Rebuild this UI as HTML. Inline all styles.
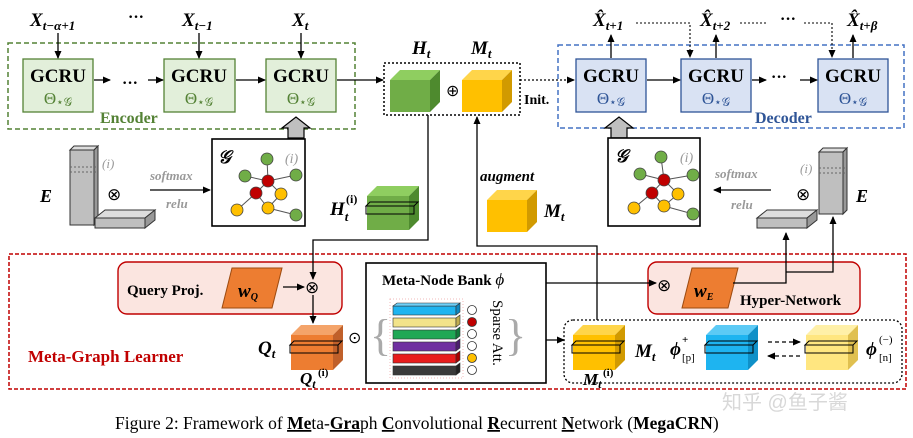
<!DOCTYPE html>
<html><head><meta charset="utf-8"><style>
html,body{margin:0;padding:0;background:#fff;}
svg{display:block;}
text{font-family:"Liberation Serif",serif;}
</style></head><body>
<svg width="913" height="438" viewBox="0 0 913 438" xmlns="http://www.w3.org/2000/svg">
<defs>
<marker id="a" markerWidth="8" markerHeight="8" refX="7" refY="4" orient="auto" markerUnits="userSpaceOnUse"><path d="M0,0.5 L8,4 L0,7.5z" fill="#000"/></marker>
</defs>
<!-- Encoder -->
<rect x="8" y="43" width="347" height="86" fill="none" stroke="#548235" stroke-width="1.5" stroke-dasharray="5,3"/>
<g fill="#e2efda" stroke="#548235" stroke-width="1.3">
<rect x="23" y="59" width="70" height="53"/><rect x="164" y="59" width="71" height="53"/><rect x="266" y="59" width="70" height="53"/>
</g>
<g font-size="19" text-anchor="middle" font-weight="bold">
<text x="58" y="82">GCRU</text><text x="199" y="82">GCRU</text><text x="301" y="82">GCRU</text>
</g>
<g font-size="17" fill="#548235" text-anchor="middle">
<text x="58" y="104">Θ<tspan font-size="12" dy="2">⋆𝒢</tspan></text><text x="199" y="104">Θ<tspan font-size="12" dy="2">⋆𝒢</tspan></text><text x="301" y="104">Θ<tspan font-size="12" dy="2">⋆𝒢</tspan></text>
</g>
<text x="100" y="123" font-size="16" fill="#548235" font-weight="bold">Encoder</text>
<g font-size="19" font-weight="bold" font-style="italic">
<text x="30" y="26">X<tspan font-size="13" dy="4">t−α+1</tspan></text>
<text x="182" y="26">X<tspan font-size="13" dy="4">t−1</tspan></text>
<text x="292" y="26">X<tspan font-size="13" dy="4">t</tspan></text>
</g>
<text x="128" y="22" font-size="16" font-weight="bold">···</text>
<text x="122" y="88" font-size="16" font-weight="bold">···</text>
<g stroke="#000" stroke-width="1.3" marker-end="url(#a)">
<line x1="58" y1="33" x2="58" y2="58"/><line x1="199" y1="33" x2="199" y2="58"/><line x1="301" y1="33" x2="301" y2="58"/>
<line x1="94" y1="80" x2="110" y2="80"/><line x1="148" y1="80" x2="163" y2="80"/><line x1="236" y1="80" x2="265" y2="80"/><line x1="337" y1="80" x2="383" y2="80"/>
</g>
<polygon points="288,138 288,128 282,128 296,117 310,128 304,128 304,138" fill="#bfbfbf" stroke="#000" stroke-width="1.2"/>
<!-- Ht Mt box -->
<rect x="384" y="63" width="136" height="52" fill="none" stroke="#000" stroke-width="1.5" stroke-dasharray="2,2"/>
<polygon points="390,80 400,70 440,70 430,80" fill="#8fce60"/><polygon points="430,80 440,70 440,102 430,112" fill="#4e8a2e"/><rect x="390" y="80" width="40" height="32" fill="#70ad47"/>
<polygon points="462,80 472,70 512,70 502,80" fill="#ffd54a"/><polygon points="502,80 512,70 512,102 502,112" fill="#d19a00"/><rect x="462" y="80" width="40" height="32" fill="#ffc000"/>
<text x="446" y="96" font-size="16">⊕</text>
<g font-size="19" font-weight="bold" font-style="italic">
<text x="412" y="54">H<tspan font-size="13" dy="4">t</tspan></text>
<text x="471" y="54">M<tspan font-size="13" dy="4">t</tspan></text>
</g>
<text x="524" y="104" font-size="14" font-weight="bold">Init.</text>
<line x1="520" y1="80" x2="574" y2="80" stroke="#000" stroke-width="1.2" stroke-dasharray="2,2" marker-end="url(#a)"/>
<!-- Decoder -->
<rect x="558" y="45" width="346" height="83" fill="none" stroke="#4472c4" stroke-width="1.5" stroke-dasharray="5,3"/>
<g fill="#d9e2f3" stroke="#2f5597" stroke-width="1.3">
<rect x="576" y="59" width="70" height="53"/><rect x="681" y="59" width="70" height="53"/><rect x="818" y="59" width="70" height="53"/>
</g>
<g font-size="19" text-anchor="middle" font-weight="bold">
<text x="611" y="82">GCRU</text><text x="716" y="82">GCRU</text><text x="853" y="82">GCRU</text>
</g>
<g font-size="17" fill="#2f5597" text-anchor="middle">
<text x="611" y="104">Θ<tspan font-size="12" dy="2">⋆𝒢</tspan></text><text x="716" y="104">Θ<tspan font-size="12" dy="2">⋆𝒢</tspan></text><text x="853" y="104">Θ<tspan font-size="12" dy="2">⋆𝒢</tspan></text>
</g>
<text x="755" y="123" font-size="16" fill="#2f5597" font-weight="bold">Decoder</text>
<g font-size="19" font-weight="bold" font-style="italic">
<text x="593" y="26">X̂<tspan font-size="13" dy="4">t+1</tspan></text>
<text x="700" y="26">X̂<tspan font-size="13" dy="4">t+2</tspan></text>
<text x="847" y="26">X̂<tspan font-size="13" dy="4">t+β</tspan></text>
</g>
<text x="780" y="24" font-size="16" font-weight="bold">···</text>
<text x="771" y="82" font-size="16" font-weight="bold">···</text>
<g stroke="#000" stroke-width="1.3" marker-end="url(#a)">
<line x1="611" y1="58" x2="611" y2="35"/><line x1="716" y1="58" x2="716" y2="35"/><line x1="853" y1="58" x2="853" y2="35"/>
<line x1="647" y1="80" x2="680" y2="80"/><line x1="752" y1="80" x2="766" y2="80"/><line x1="800" y1="80" x2="817" y2="80"/>
</g>
<g stroke="#000" stroke-width="1.1" stroke-dasharray="2,2" fill="none">
<polyline points="636,23 690,23 690,57" marker-end="url(#a)"/>
<polyline points="740,23 768,23"/>
<polyline points="804,23 832,23 832,57" marker-end="url(#a)"/>
</g>
<polygon points="611,138 611,128 605,128 619,117 633,128 627,128 627,138" fill="#bfbfbf" stroke="#000" stroke-width="1.2"/>
<!-- left graph -->
<rect x="212" y="139" width="93" height="87" fill="#fff" stroke="#000" stroke-width="1.6"/>
<text x="218" y="163" font-size="18" font-weight="bold" font-style="italic">𝒢</text>
<text x="285" y="163" font-size="14" fill="#999" font-style="italic">(i)</text>
<g stroke="#555" stroke-width="1">
<line x1="267" y1="159" x2="268" y2="181"/><line x1="245" y1="176" x2="268" y2="181"/><line x1="268" y1="181" x2="296" y2="175"/><line x1="268" y1="181" x2="256" y2="193"/><line x1="268" y1="181" x2="281" y2="194"/><line x1="256" y1="193" x2="237" y2="210"/><line x1="256" y1="193" x2="268" y2="208"/><line x1="281" y1="194" x2="268" y2="208"/><line x1="268" y1="208" x2="296" y2="215"/>
</g>
<g stroke="#444" stroke-width="0.8">
<circle cx="267" cy="159" r="6" fill="#70ad47"/><circle cx="245" cy="176" r="6" fill="#70ad47"/><circle cx="296" cy="175" r="6" fill="#70ad47"/><circle cx="296" cy="215" r="6" fill="#70ad47"/>
<circle cx="268" cy="181" r="6" fill="#c00000"/><circle cx="256" cy="193" r="6" fill="#c00000"/>
<circle cx="281" cy="194" r="6" fill="#ffc000"/><circle cx="268" cy="208" r="6" fill="#ffc000"/><circle cx="237" cy="210" r="6" fill="#ffc000"/>
</g>
<!-- left E -->
<text x="40" y="202" font-size="18" font-weight="bold" font-style="italic">E</text>
<polygon points="70,150 74,146 98,146 94,150" fill="#ddd" stroke="#333"/><polygon points="94,150 98,146 98,221 94,225" fill="#999" stroke="#333"/><rect x="70" y="150" width="24" height="75" fill="#bfbfbf" stroke="#333"/>
<line x1="70" y1="167" x2="98" y2="167" stroke="#666" stroke-dasharray="2,2"/><line x1="70" y1="172" x2="98" y2="172" stroke="#666" stroke-dasharray="2,2"/>
<text x="102" y="168" font-size="13" fill="#999" font-style="italic">(i)</text>
<text x="107" y="200" font-size="17">⊗</text>
<polygon points="95,218 105,210 155,210 145,218" fill="#ddd" stroke="#333"/><polygon points="145,218 155,210 155,220 145,228" fill="#999" stroke="#333"/><rect x="95" y="218" width="50" height="10" fill="#bfbfbf" stroke="#333"/>
<text x="150" y="180" font-size="13" fill="#999" font-style="italic" font-weight="bold">softmax</text>
<text x="166" y="208" font-size="13" fill="#999" font-style="italic" font-weight="bold">relu</text>
<line x1="150" y1="190" x2="210" y2="190" stroke="#000" stroke-width="1.3" marker-end="url(#a)"/>
<!-- H_t^(i) -->
<text x="330" y="215" font-size="19" font-weight="bold" font-style="italic">H<tspan font-size="13" dy="6">t</tspan></text>
<text x="346" y="203" font-size="12" font-weight="bold">(i)</text>
<polygon points="367,196 377,186 419,186 409,196" fill="#8fce60"/><polygon points="409,196 419,186 419,220 409,230" fill="#4e8a2e"/><rect x="367" y="196" width="42" height="34" fill="#70ad47"/>
<polygon points="366,206 370,202 418,202 414,206" fill="none" stroke="#000"/><rect x="366" y="206" width="48" height="8" fill="none" stroke="#000"/>
<!-- augment -->
<text x="480" y="181" font-size="15" font-weight="bold" font-style="italic">augment</text>
<polygon points="487,200 497,190 537,190 527,200" fill="#ffd54a"/><polygon points="527,200 537,190 537,222 527,232" fill="#d19a00"/><rect x="487" y="200" width="40" height="32" fill="#ffc000"/>
<text x="544" y="217" font-size="19" font-weight="bold" font-style="italic">M<tspan font-size="13" dy="4">t</tspan></text>
<!-- right graph -->
<rect x="608" y="138" width="92" height="88" fill="#fff" stroke="#000" stroke-width="1.6"/>
<text x="615" y="162" font-size="18" font-weight="bold" font-style="italic">𝒢</text>
<text x="680" y="162" font-size="14" fill="#999" font-style="italic">(i)</text>
<g stroke="#555" stroke-width="1">
<line x1="661" y1="157" x2="664" y2="180"/><line x1="640" y1="174" x2="664" y2="180"/><line x1="664" y1="180" x2="693" y2="175"/><line x1="664" y1="180" x2="652" y2="193"/><line x1="664" y1="180" x2="678" y2="194"/><line x1="652" y1="193" x2="634" y2="208"/><line x1="652" y1="193" x2="664" y2="206"/><line x1="678" y1="194" x2="664" y2="206"/><line x1="664" y1="206" x2="693" y2="214"/>
</g>
<g stroke="#444" stroke-width="0.8">
<circle cx="661" cy="157" r="6" fill="#70ad47"/><circle cx="640" cy="174" r="6" fill="#70ad47"/><circle cx="693" cy="175" r="6" fill="#70ad47"/><circle cx="693" cy="214" r="6" fill="#70ad47"/>
<circle cx="664" cy="180" r="6" fill="#c00000"/><circle cx="652" cy="193" r="6" fill="#c00000"/>
<circle cx="678" cy="194" r="6" fill="#ffc000"/><circle cx="664" cy="206" r="6" fill="#ffc000"/><circle cx="634" cy="208" r="6" fill="#ffc000"/>
</g>
<text x="715" y="178" font-size="13" fill="#999" font-style="italic" font-weight="bold">softmax</text>
<text x="731" y="209" font-size="13" fill="#999" font-style="italic" font-weight="bold">relu</text>
<line x1="771" y1="190" x2="714" y2="190" stroke="#000" stroke-width="1.3" marker-end="url(#a)"/>
<polygon points="819,152 823,148 847,148 843,152" fill="#ddd" stroke="#333"/><polygon points="843,152 847,148 847,210 843,214" fill="#999" stroke="#333"/><rect x="819" y="152" width="24" height="62" fill="#bfbfbf" stroke="#333"/>
<line x1="819" y1="168" x2="847" y2="168" stroke="#666" stroke-dasharray="2,2"/><line x1="819" y1="173" x2="847" y2="173" stroke="#666" stroke-dasharray="2,2"/>
<text x="800" y="173" font-size="13" fill="#999" font-style="italic">(i)</text>
<text x="796" y="200" font-size="17">⊗</text>
<text x="856" y="202" font-size="18" font-weight="bold" font-style="italic">E</text>
<polygon points="757,218 767,210 817,210 807,218" fill="#ddd" stroke="#333"/><polygon points="807,218 817,210 817,220 807,228" fill="#999" stroke="#333"/><rect x="757" y="218" width="50" height="10" fill="#bfbfbf" stroke="#333"/>
<!-- Meta-Graph Learner -->
<rect x="9" y="254" width="897" height="135" fill="none" stroke="#c00000" stroke-width="1.5" stroke-dasharray="4,2"/>
<text x="28" y="362" font-size="17" fill="#c00000" font-weight="bold">Meta-Graph Learner</text>
<rect x="118" y="262" width="224" height="52" rx="9" fill="#fbe5e0" stroke="#c00000" stroke-width="1.4"/>
<text x="127" y="295" font-size="15" font-weight="bold">Query Proj.</text>
<polygon points="232,268 282,268 272,308 222,308" fill="#ed7d31" stroke="#9c4a10"/>
<text x="238" y="297" font-size="19" font-style="italic" font-weight="bold">w<tspan font-size="10" dy="3">Q</tspan></text>
<text x="305" y="293" font-size="17">⊗</text>
<line x1="283" y1="287" x2="304" y2="287" stroke="#000" stroke-width="1.3" marker-end="url(#a)"/>
<rect x="648" y="262" width="212" height="52" rx="9" fill="#fbe5e0" stroke="#c00000" stroke-width="1.4"/>
<text x="657" y="291" font-size="17">⊗</text>
<polygon points="692,268 738,268 728,308 682,308" fill="#ed7d31" stroke="#9c4a10"/>
<text x="694" y="297" font-size="19" font-style="italic" font-weight="bold">w<tspan font-size="10" dy="3">E</tspan></text>
<text x="740" y="305" font-size="15" font-weight="bold">Hyper-Network</text>
<!-- connectors -->
<g stroke="#000" stroke-width="1.3" fill="none">
<polyline points="428,115 428,240 313,240 313,279" marker-end="url(#a)"/>
<line x1="313" y1="295" x2="313" y2="323" marker-end="url(#a)"/>
<polyline points="597,320 597,246 477,246 477,117" marker-end="url(#a)"/>
<line x1="534" y1="283" x2="656" y2="283" marker-end="url(#a)"/>
<polyline points="733,283 786,283 786,233" marker-end="url(#a)"/>
<polyline points="786,272 833,272 833,217" marker-end="url(#a)"/>
<line x1="521" y1="340" x2="564" y2="340" marker-end="url(#a)"/>
</g>
<!-- Q_t -->
<text x="258" y="354" font-size="19" font-weight="bold" font-style="italic">Q<tspan font-size="13" dy="4">t</tspan></text>
<polygon points="291,335 301,325 343,325 333,335" fill="#f4a46a"/><polygon points="333,335 343,325 343,360 333,370" fill="#c0602a"/><rect x="291" y="335" width="42" height="35" fill="#ed7d31"/>
<polygon points="290,345 294,341 342,341 338,345" fill="none" stroke="#000"/><rect x="290" y="345" width="48" height="8" fill="none" stroke="#000"/>
<text x="300" y="384" font-size="17" font-weight="bold" font-style="italic">Q<tspan font-size="12" dy="4">t</tspan></text>
<text x="318" y="376" font-size="11" font-weight="bold">(i)</text>
<text x="348" y="343" font-size="16">⊙</text>
<!-- Meta node bank -->
<rect x="366" y="263" width="180" height="120" fill="#fff" stroke="#000" stroke-width="1.6"/>
<text x="382" y="285" font-size="15" font-weight="bold">Meta-Node Bank <tspan font-style="italic" font-weight="normal" font-size="17">ϕ</tspan></text>
<text x="370" y="350" font-size="44" fill="#aaa">{</text>
<text x="505" y="350" font-size="44" fill="#aaa">}</text>
<rect x="390" y="299" width="73" height="79" fill="none" stroke="#f2b8b8" stroke-dasharray="1,2"/>
<g stroke="#333" stroke-width="0.6">
<rect x="393" y="306" width="63" height="9" fill="#1eb4f0"/><polygon points="456,306 460,303 460,312 456,315" fill="#0f88c0"/><polygon points="393,306 397,303 460,303 456,306" fill="#6cd0f8"/>
<rect x="393" y="318" width="63" height="9" fill="#f2e38a"/><polygon points="456,318 460,315 460,324 456,327" fill="#c0ae50"/>
<rect x="393" y="330" width="63" height="9" fill="#1fa855"/><polygon points="456,330 460,327 460,336 456,339" fill="#127a3a"/>
<rect x="393" y="342" width="63" height="9" fill="#7030a0"/><polygon points="456,342 460,339 460,348 456,351" fill="#4c1e70"/>
<rect x="393" y="354" width="63" height="9" fill="#e81c1c"/><polygon points="456,354 460,351 460,360 456,363" fill="#a00"/>
<rect x="393" y="366" width="63" height="9" fill="#3a3a3a"/><polygon points="456,366 460,363 460,372 456,375" fill="#222"/>
</g>
<g stroke="#333" stroke-width="0.8">
<circle cx="472" cy="310" r="4.5" fill="#fff"/><circle cx="472" cy="322" r="4.5" fill="#c00000"/><circle cx="472" cy="334" r="4.5" fill="#fff"/><circle cx="472" cy="346" r="4.5" fill="#fff"/><circle cx="472" cy="358" r="4.5" fill="#ffc000"/><circle cx="472" cy="370" r="4.5" fill="#fff"/>
</g>
<text x="0" y="0" font-size="15" transform="translate(493,300) rotate(90)">Sparse Att.</text>
<!-- bottom right -->
<rect x="564" y="320" width="338" height="63" rx="9" fill="none" stroke="#000" stroke-width="1.3" stroke-dasharray="2,2"/>
<polygon points="573,335 583,325 625,325 615,335" fill="#ffd54a"/><polygon points="615,335 625,325 625,360 615,370" fill="#d19a00"/><rect x="573" y="335" width="42" height="35" fill="#ffc000"/>
<polygon points="572,345 576,341 624,341 620,345" fill="none" stroke="#000"/><rect x="572" y="345" width="48" height="8" fill="none" stroke="#000"/>
<text x="583" y="385" font-size="17" font-weight="bold" font-style="italic">M<tspan font-size="12" dy="3">t</tspan></text>
<text x="603" y="376" font-size="11" font-weight="bold">(i)</text>
<text x="635" y="357" font-size="19" font-weight="bold" font-style="italic">M<tspan font-size="13" dy="4">t</tspan></text>
<text x="670" y="355" font-size="19" font-weight="bold" font-style="italic">ϕ</text>
<text x="682" y="343" font-size="11" font-weight="bold">+</text>
<text x="682" y="361" font-size="11">[p]</text>
<polygon points="706,335 716,325 758,325 748,335" fill="#5ccaf5"/><polygon points="748,335 758,325 758,360 748,370" fill="#0f90c8"/><rect x="706" y="335" width="42" height="35" fill="#1eb4f0"/>
<polygon points="705,345 709,341 757,341 753,345" fill="none" stroke="#000"/><rect x="705" y="345" width="48" height="8" fill="none" stroke="#000"/>
<polygon points="806,335 816,325 858,325 848,335" fill="#fff0a8"/><polygon points="848,335 858,325 858,360 848,370" fill="#e0c050"/><rect x="806" y="335" width="42" height="35" fill="#ffe680"/>
<polygon points="805,345 809,341 857,341 853,345" fill="none" stroke="#000"/><rect x="805" y="345" width="48" height="8" fill="none" stroke="#000"/>
<text x="866" y="355" font-size="19" font-weight="bold" font-style="italic">ϕ</text>
<text x="879" y="343" font-size="11">(−)</text>
<text x="879" y="361" font-size="11">[n]</text>
<g stroke="#000" stroke-width="1.3" stroke-dasharray="4,3">
<line x1="768" y1="342" x2="800" y2="342" marker-end="url(#a)"/>
<line x1="800" y1="356" x2="768" y2="356" marker-end="url(#a)"/>
</g>
<!-- caption -->
<text x="115" y="429" font-size="17.5">Figure 2: Framework of <tspan text-decoration="underline" font-weight="bold">Me</tspan>ta-<tspan text-decoration="underline" font-weight="bold">Gra</tspan>ph <tspan text-decoration="underline" font-weight="bold">C</tspan>onvolutional <tspan text-decoration="underline" font-weight="bold">R</tspan>ecurrent <tspan text-decoration="underline" font-weight="bold">N</tspan>etwork (<tspan font-weight="bold">MegaCRN</tspan>)</text>
<text x="722" y="409" font-size="20" fill="#d8d8d8" style="font-family:'Liberation Sans','Noto Sans CJK SC',sans-serif">知乎 @鱼子酱</text>
</svg>
</body></html>
